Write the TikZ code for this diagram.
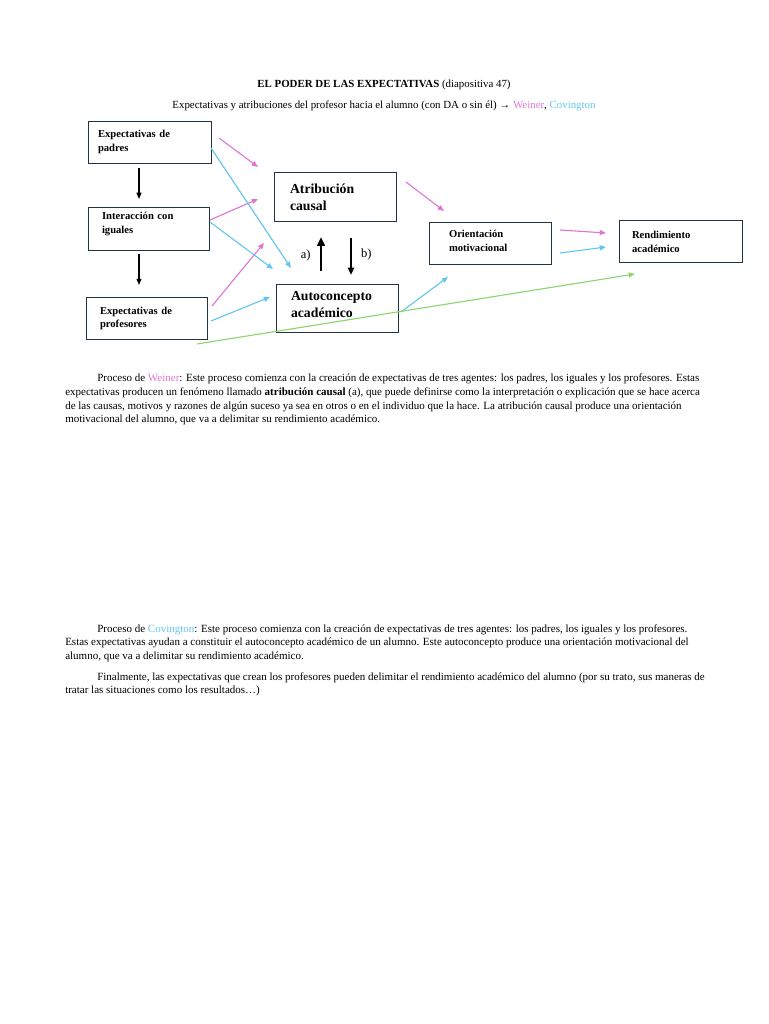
\documentclass[tikz,border=0pt]{standalone}
\usepackage{fontspec}
\setmainfont{Liberation Serif}
\usetikzlibrary{arrows.meta}

\definecolor{weiner}{RGB}{224,118,212}
\definecolor{covington}{RGB}{98,198,240}
\definecolor{directo}{RGB}{140,214,110}
\definecolor{borde}{RGB}{32,52,66}

\newcommand\cuerpo{\fontsize{8.7}{10.9}\selectfont}
\newcommand\parrafo{\fontsize{8.8}{10.9}\selectfont}

\tikzset{
  agente/.style={draw=borde, line width=0.8pt, minimum height=34pt, inner ysep=2pt, align=left, font=\fontsize{8.5}{11}\selectfont\bfseries},
  factor/.style={draw=borde, line width=0.8pt, minimum height=39pt, inner ysep=2pt, align=left, font=\fontsize{11}{13.5}\selectfont\bfseries},
  flecha/.style={-{Triangle[length=5pt,width=4pt]}, line width=0.9pt}
}

\begin{document}
\begin{tikzpicture}[x=0.8pt, y=-0.8pt]
      \useasboundingbox (0,0) rectangle (768,1024);

      % Title
      \node[font=\cuerpo] (titulo) at (384,85) {\textbf{EL PODER DE LAS EXPECTATIVAS} (diapositiva 47)};
      \node[font=\cuerpo] (subtitulo) at (384,106) {Expectativas y atribuciones del profesor hacia el alumno (con DA o sin él) \textbf{→} \textcolor{weiner}{Weiner}, \textcolor{covington}{Covington}};

      % Draw the boxes
      \node[agente, text width=82.4pt, inner xsep=8pt, text depth=13.6pt] (padres) at (149.5,142.5) {Expectativas de\\padres};
      \node[agente, text width=74.4pt, inner xsep=11.2pt, text depth=20.5pt] (iguales) at (148.5,229) {Interacción con\\iguales};
      \node[agente, text width=74.4pt, inner xsep=11.2pt] (profesores) at (146.5,318.5) {Expectativas de\\profesores};
      \node[factor, text width=72pt, inner xsep=12.8pt] (atribucion) at (335,197) {Atribución\\causal};
      \node[factor, text width=73.6pt, inner xsep=12pt, text depth=20pt] (autoconcepto) at (337,308.5) {Autoconcepto\\académico};
      \node[agente, text width=65.6pt, inner xsep=16pt, text depth=15.2pt] (orientacion) at (490,243.5) {Orientación\\motivacional};
      \node[agente, text width=77.6pt, inner xsep=10.4pt] (rendimiento) at (680.5,241.5) {Rendimiento\\académico};

      % Arrow ends
      \coordinate (padresS) at (139,168);   \coordinate (igualesN) at (139,199);
      \coordinate (igualesS) at (139,254);  \coordinate (profesN) at (139,285);
      \coordinate (aIni) at (321,271);      \coordinate (aFin) at (321,237);
      \coordinate (bIni) at (351,238);      \coordinate (bFin) at (351,275);
      \coordinate (w1) at (219,138);  \coordinate (w1f) at (258,167);
      \coordinate (w2) at (210,220);  \coordinate (w2f) at (258,199);
      \coordinate (w3) at (212,306);  \coordinate (w3f) at (264,243);
      \coordinate (w4) at (406,182);  \coordinate (w4f) at (444,211);
      \coordinate (w5) at (560,230);  \coordinate (w5f) at (606,233);
      \coordinate (c1) at (211,148);  \coordinate (c1f) at (291,268);
      \coordinate (c2) at (210,222);  \coordinate (c2f) at (273,269);
      \coordinate (c3) at (211,321);  \coordinate (c3f) at (270,297);
      \coordinate (c4) at (401,312);  \coordinate (c4f) at (448,277);
      \coordinate (c5) at (560,253);  \coordinate (c5f) at (606,247);
      \coordinate (d1) at (197,344);  \coordinate (d1f) at (635,274);

      % Black arrows
      \draw[flecha] (padresS) -- (igualesN);
      \draw[flecha] (igualesS) -- (profesN);
      \draw[-{Triangle[length=7pt,width=6pt]}, line width=2pt] (aIni) -- (aFin) node[pos=0.45, left=4pt, font=\fontsize{10}{12}\selectfont] (a) {a)};
      \draw[-{Triangle[length=6pt,width=5pt]}, line width=1.5pt] (bIni) -- (bFin) node[pos=0.45, right=4pt, font=\fontsize{10}{12}\selectfont] (b) {b)};

      % Weiner (pink)
      \draw[flecha, weiner] (w1) -- (w1f);
      \draw[flecha, weiner] (w2) -- (w2f);
      \draw[flecha, weiner] (w3) -- (w3f);
      \draw[flecha, weiner] (w4) -- (w4f);
      \draw[flecha, weiner] (w5) -- (w5f);

      % Covington (blue)
      \draw[flecha, covington] (c1) -- (c1f);
      \draw[flecha, covington] (c2) -- (c2f);
      \draw[flecha, covington] (c3) -- (c3f);
      \draw[flecha, covington] (c4) -- (c4f);
      \draw[flecha, covington] (c5) -- (c5f);

      % Profesores to rendimiento (green)
      \draw[flecha, directo] (d1) -- (d1f);

      % Text
      \node[anchor=north west, inner sep=0pt, align=left, font=\parrafo] (textoWeiner) at (65,374) {%
        \hspace{25.6pt}Proceso de \textcolor{weiner}{Weiner}: Este proceso comienza con la creación de expectativas de tres agentes: los padres, los iguales y los profesores. Estas\\
        expectativas producen un fenómeno llamado \textbf{atribución causal} (a), que puede definirse como la interpretación o explicación que se hace acerca\\
        de las causas, motivos y razones de algún suceso ya sea en otros o en el individuo que la hace. La atribución causal produce una orientación\\
        motivacional del alumno, que va a delimitar su rendimiento académico.};
      \node[anchor=north west, inner sep=0pt, align=left, font=\parrafo] (textoCovington) at (65,624) {%
        \hspace{25.6pt}Proceso de \textcolor{covington}{Covington}: Este proceso comienza con la creación de expectativas de tres agentes: los padres, los iguales y los profesores.\\
        Estas expectativas ayudan a constituir el autoconcepto académico de un alumno. Este autoconcepto produce una orientación motivacional del\\
        alumno, que va a delimitar su rendimiento académico.};
      \node[anchor=north west, inner sep=0pt, align=left, font=\parrafo] (textoFinal) at (65,672) {%
        \hspace{25.6pt}Finalmente, las expectativas que crean los profesores pueden delimitar el rendimiento académico del alumno (por su trato, sus maneras de\\
        tratar las situaciones como los resultados…)};
  \end{tikzpicture}
\end{document}
